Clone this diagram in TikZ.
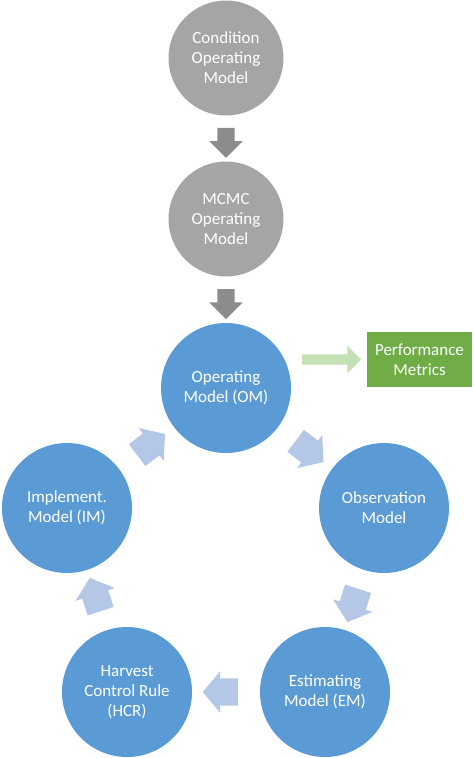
\documentclass[tikz,border=0pt]{standalone}
\usepackage{fontspec}
\setmainfont{Carlito}
\usetikzlibrary{shapes.arrows}
\definecolor{cgray}{HTML}{A5A5A5}
\definecolor{agray}{HTML}{8C8C8C}
\definecolor{cblue}{HTML}{5B9BD5}
\definecolor{ablue}{HTML}{B4C7E7}
\definecolor{cgreen}{HTML}{70AD47}
\definecolor{agreen}{HTML}{C5E0B4}

\begin{document}
\begin{tikzpicture}[x=1pt, y=1pt,
	modeltext/.style={text=white, inner sep=0pt, align=center, font=\fontsize{17}{20}\selectfont},
	graycirc/.style={circle, fill=cgray, minimum size=115pt, modeltext},
	bluecirc/.style={circle, fill=cblue, minimum size=130pt, modeltext},
	greenbox/.style={rectangle, fill=cgreen, minimum width=105pt, minimum height=55pt, modeltext},
	grayarr/.style={single arrow, fill=agray, inner sep=0pt, inner ysep=8.5pt, minimum height=30pt, minimum width=33pt, single arrow head extend=8pt, sloped, allow upside down},
	cyclearr/.style={single arrow, fill=ablue, inner sep=0pt, inner ysep=13.5pt, minimum height=35pt, minimum width=41pt, single arrow head extend=7pt, single arrow tip angle=100, sloped, allow upside down},
	greenarr/.style={single arrow, fill=agreen, inner sep=0pt, inner ysep=5pt, minimum height=59pt, minimum width=27pt, single arrow head extend=8.5pt, sloped, allow upside down}]
	\useasboundingbox (0,0) rectangle (474,-758);

	% conditioning
	\node[graycirc] (COND) at (226,-58) {Condition\\Operating\\Model};
	\node[graycirc] (MCMC) at (226,-219) {MCMC\\Operating\\Model};

	% closed loop
	\node[bluecirc] (OM) at (226,-388) {Operating\\Model (OM)};
	\node[bluecirc] (OBS) at (384,-508) {Observation\\Model};
	\node[bluecirc] (EM) at (325,-692) {Estimating\\Model (EM)};
	\node[bluecirc] (HCR) at (127,-692) {Harvest\\Control Rule\\(HCR)};
	\node[bluecirc] (IM) at (67,-508) {Implement.\\Model (IM)};
	\node[greenbox] (PM) at (419.5,-359.5) {Performance\\Metrics};

	\path (COND) -- node[grayarr] {} (MCMC);
	\path (MCMC) -- node[grayarr] {} (OM);
	\path (OM.east |- PM.west) -- node[greenarr] {} (PM.west);
	\path (OM) -- node[cyclearr] {} (OBS);
	\path (OBS) -- node[cyclearr] {} (EM);
	\path (EM) -- node[cyclearr] {} (HCR);
	\path (HCR) -- node[cyclearr] {} (IM);
	\path (IM) -- node[cyclearr] {} (OM);
\end{tikzpicture}
\end{document}
